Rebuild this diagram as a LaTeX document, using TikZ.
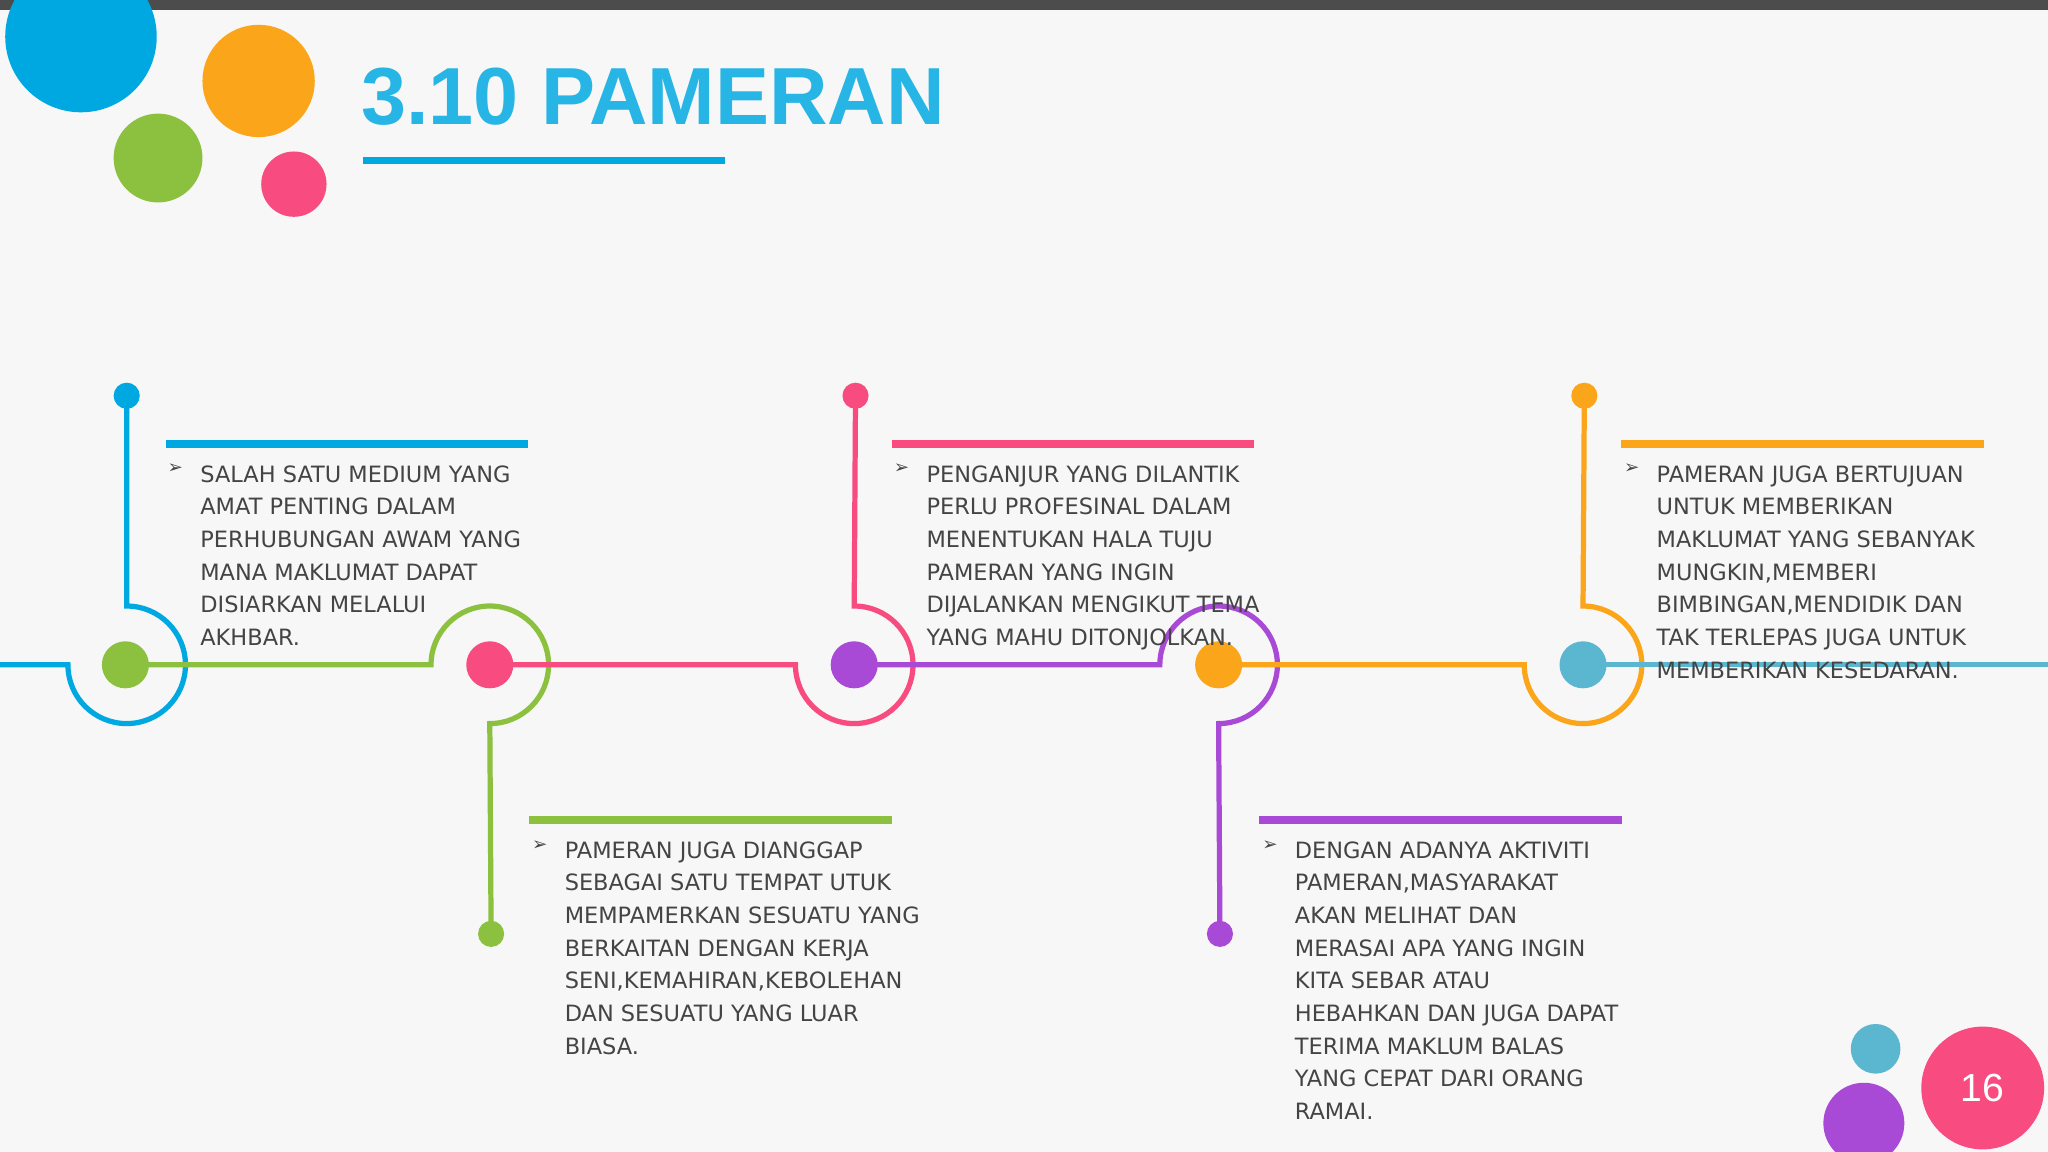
\documentclass[tikz,border=0pt]{standalone}
\usepackage{fontspec}
\setmainfont{DejaVu Sans}
\newfontfamily\titlefont{Liberation Sans}
\definecolor{cblue}{HTML}{00A8E1}
\definecolor{cgreen}{HTML}{8CC13F}
\definecolor{cpink}{HTML}{F84C80}
\definecolor{cpurple}{HTML}{A94AD6}
\definecolor{corange}{HTML}{FBA51B}
\definecolor{cteal}{HTML}{5BB6D0}
\definecolor{ctext}{HTML}{444444}
\definecolor{cbg}{HTML}{F7F7F7}
\tikzset{
 sdot/.style={circle,inner sep=0pt,minimum size=10pt},
 bdot/.style={circle,inner sep=0pt,minimum size=18pt},
 link/.style={line width=2pt},
 bar/.style={line width=3pt},
 body/.style={anchor=north west,inner sep=0pt,align=left,text=ctext,font=\fontsize{8.6}{12.5}\selectfont},
 bul/.style={anchor=north west,inner sep=0pt,text=ctext,font=\fontsize{7}{12.5}\selectfont},
}
\begin{document}
\begin{tikzpicture}[x=0.5pt,y=0.5pt]
\fill[cbg] (0,0) rectangle (1568,882);
\useasboundingbox (0,0) rectangle (1568,882);
\fill[black!70] (0,874) rectangle (1568,882);
% decorative circles
\fill[cblue] (62,854) circle (58);
\fill[corange] (198,820) circle (43);
\fill[cgreen] (121,761) circle (34);
\fill[cpink] (225,741) circle (25);
\fill[cteal] (1436,79) circle (19);
\fill[cpurple] (1427,22) circle (31);
\fill[cpink] (1518,49) circle (47);
\node[text=white,font=\titlefont\fontsize{15}{15}\selectfont] (pg) at (1518,49) {16};
% title
\node[anchor=west,inner sep=0pt,text=cblue!85!white,font=\titlefont\bfseries\fontsize{31}{31}\selectfont] (title) at (276,808) {3.10 PAMERAN};
\draw[cblue,line width=2.5pt] (278,759) -- (555,759);
% dots
\node[sdot,fill=cblue] (s1) at (97,579) {};
\node[sdot,fill=cgreen] (s2) at (376,167) {};
\node[sdot,fill=cpink] (s3) at (655,579) {};
\node[sdot,fill=cpurple] (s4) at (934,167) {};
\node[sdot,fill=corange] (s5) at (1213,579) {};
% connectors
\draw[link,cblue] (s1.center) -- (97,418) arc[start angle=90,end angle=-180,radius=45] -- (0,373);
\draw[link,cgreen] (96,373) -- (330,373) arc[start angle=180,end angle=-90,radius=45] -- (s2.center);
\draw[link,cpink] (375,373) -- (609,373) arc[start angle=180,end angle=450,radius=45] -- (s3.center);
\draw[link,cpurple] (654,373) -- (888,373) arc[start angle=180,end angle=-90,radius=45] -- (s4.center);
\draw[link,corange] (933,373) -- (1167,373) arc[start angle=180,end angle=450,radius=45] -- (s5.center);
\draw[link,cteal] (1212,373) -- (1568,373);
\node[bdot,fill=cgreen] (b1) at (96,373) {};
\node[bdot,fill=cpink] (b2) at (375,373) {};
\node[bdot,fill=cpurple] (b3) at (654,373) {};
\node[bdot,fill=corange] (b4) at (933,373) {};
\node[bdot,fill=cteal] (b5) at (1212,373) {};
% bars
\draw[bar,cblue] (127,542) -- (404,542);
\draw[bar,cpink] (683,542) -- (960,542);
\draw[bar,corange] (1241,542) -- (1519,542);
\draw[bar,cgreen] (405,254) -- (683,254);
\draw[bar,cpurple] (964,254) -- (1242,254);
% texts
\node[bul] (u1) at (128,527) {➢};
\node[body] (t1) at (153,526) {SALAH SATU MEDIUM YANG\\AMAT PENTING DALAM\\PERHUBUNGAN AWAM YANG\\MANA MAKLUMAT DAPAT\\DISIARKAN MELALUI\\AKHBAR.};
\node[bul] (u2) at (407,239) {➢};
\node[body] (t2) at (432,238) {PAMERAN JUGA DIANGGAP\\SEBAGAI SATU TEMPAT UTUK\\MEMPAMERKAN SESUATU YANG\\BERKAITAN DENGAN KERJA\\SENI,KEMAHIRAN,KEBOLEHAN\\DAN SESUATU YANG LUAR\\BIASA.};
\node[bul] (u3) at (684,527) {➢};
\node[body] (t3) at (709,526) {PENGANJUR YANG DILANTIK\\PERLU PROFESINAL DALAM\\MENENTUKAN HALA TUJU\\PAMERAN YANG INGIN\\DIJALANKAN MENGIKUT TEMA\\YANG MAHU DITONJOLKAN.};
\node[bul] (u4) at (966,239) {➢};
\node[body] (t4) at (991,238) {DENGAN ADANYA AKTIVITI\\PAMERAN,MASYARAKAT\\AKAN MELIHAT DAN\\MERASAI APA YANG INGIN\\KITA SEBAR ATAU\\HEBAHKAN DAN JUGA DAPAT\\TERIMA MAKLUM BALAS\\YANG CEPAT DARI ORANG\\RAMAI.};
\node[bul] (u5) at (1243,527) {➢};
\node[body] (t5) at (1268,526) {PAMERAN JUGA BERTUJUAN\\UNTUK MEMBERIKAN\\MAKLUMAT YANG SEBANYAK\\MUNGKIN,MEMBERI\\BIMBINGAN,MENDIDIK DAN\\TAK TERLEPAS JUGA UNTUK\\MEMBERIKAN KESEDARAN.};
\end{tikzpicture}
\end{document}
